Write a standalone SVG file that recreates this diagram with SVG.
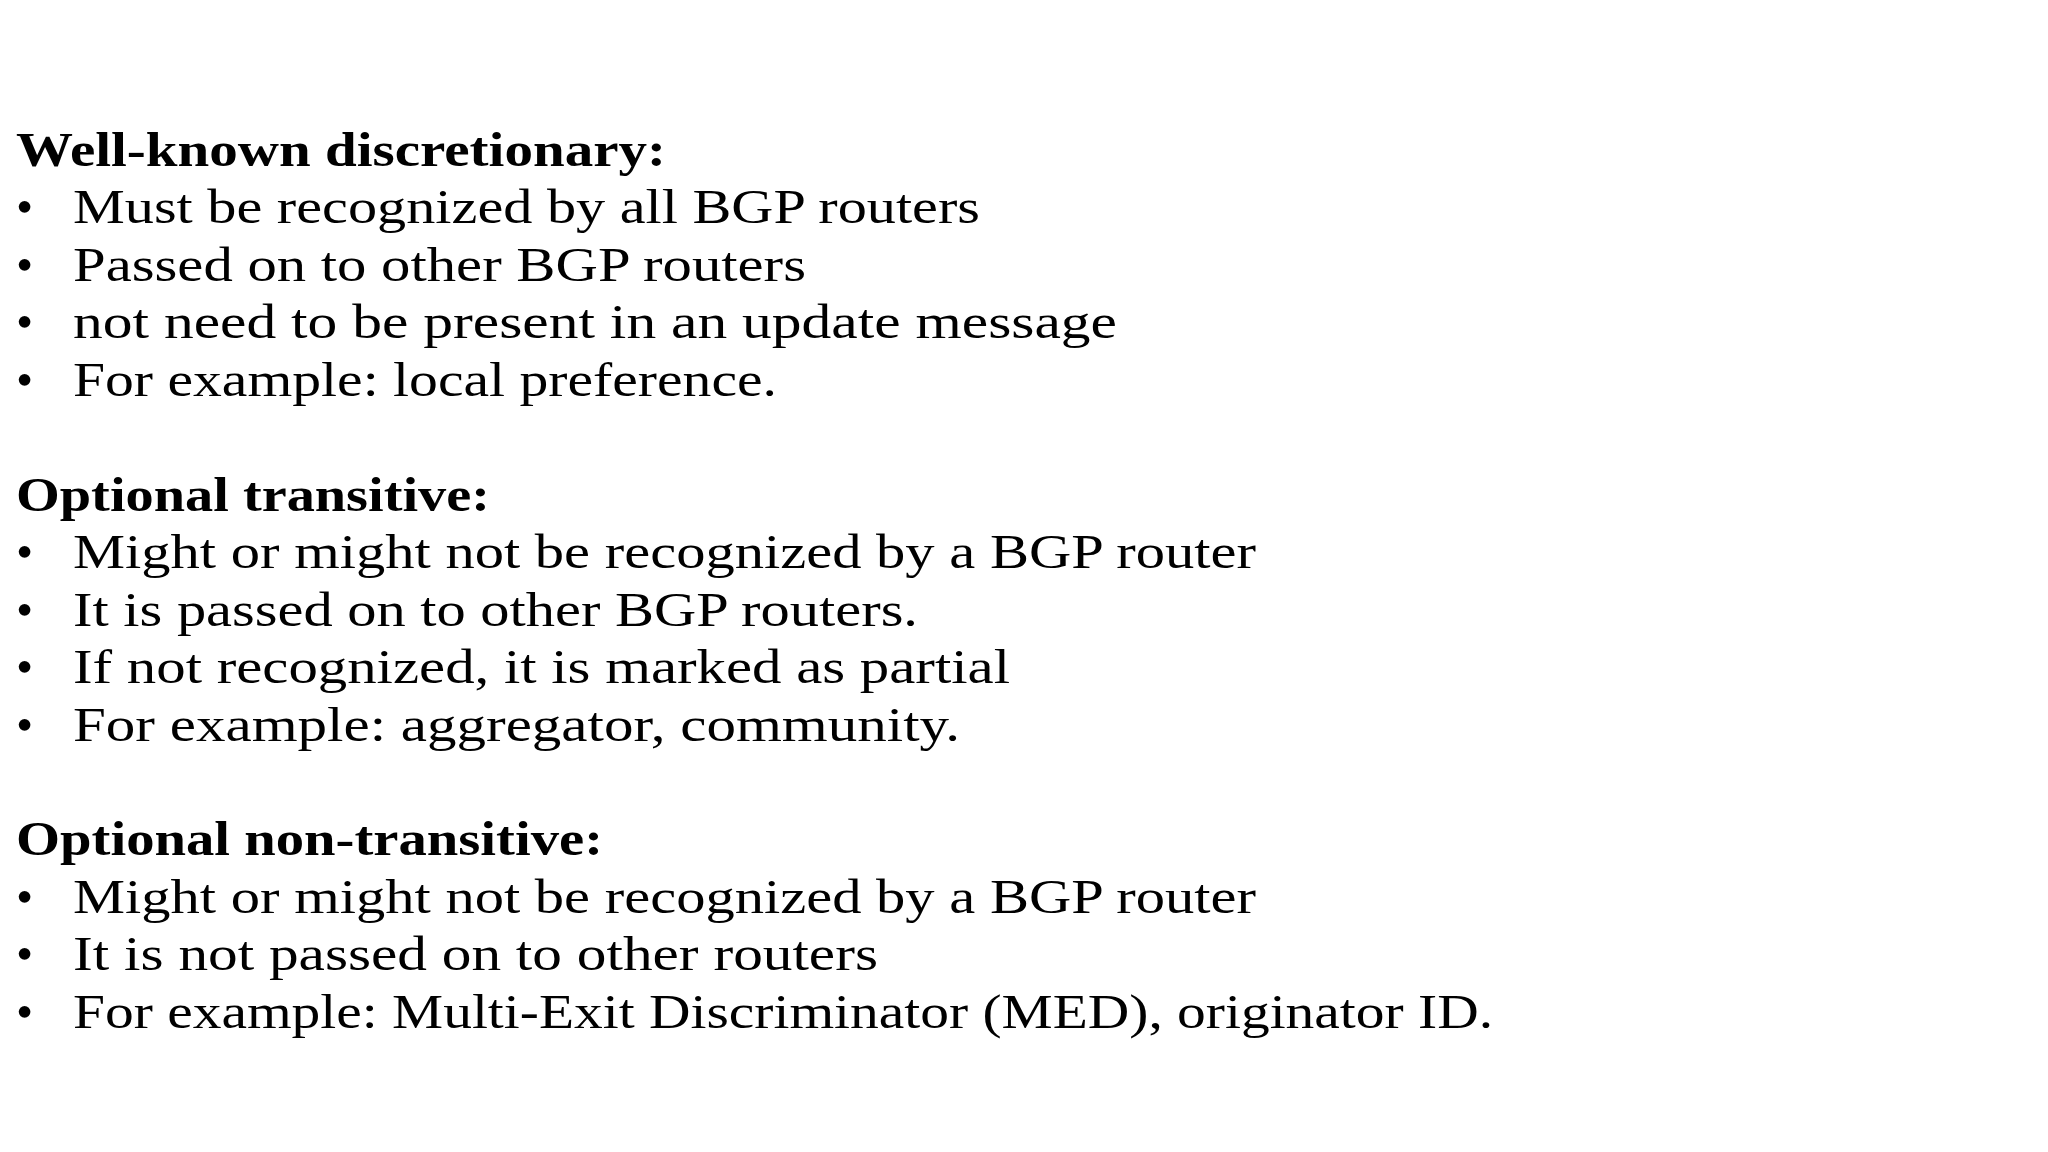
<svg xmlns="http://www.w3.org/2000/svg" width="2048" height="1152" viewBox="0 0 2048 1152">
<style>
text{font-family:"Liberation Serif","DejaVu Serif",serif;font-size:49px;fill:#000}
.h{font-weight:bold}
</style>
<rect width="2048" height="1152" fill="#fff"/>
<g id="wellknown">
<text class="h" x="16" y="166" textLength="650" lengthAdjust="spacingAndGlyphs">Well-known discretionary:</text>
<text x="16" y="223">•</text><text x="73" y="223" textLength="907" lengthAdjust="spacingAndGlyphs">Must be recognized by all BGP routers</text>
<text x="16" y="281">•</text><text x="73" y="281" textLength="733" lengthAdjust="spacingAndGlyphs">Passed on to other BGP routers</text>
<text x="16" y="338">•</text><text x="73" y="338" textLength="1044" lengthAdjust="spacingAndGlyphs">not need to be present in an update message</text>
<text x="16" y="396">•</text><text x="73" y="396" textLength="704" lengthAdjust="spacingAndGlyphs">For example: local preference.</text>
</g>
<g id="optional-transitive">
<text class="h" x="16" y="511" textLength="474" lengthAdjust="spacingAndGlyphs">Optional transitive:</text>
<text x="16" y="568">•</text><text x="73" y="568" textLength="1183" lengthAdjust="spacingAndGlyphs">Might or might not be recognized by a BGP router</text>
<text x="16" y="626">•</text><text x="73" y="626" textLength="845" lengthAdjust="spacingAndGlyphs">It is passed on to other BGP routers.</text>
<text x="16" y="683">•</text><text x="73" y="683" textLength="937" lengthAdjust="spacingAndGlyphs">If not recognized, it is marked as partial</text>
<text x="16" y="741">•</text><text x="73" y="741" textLength="887" lengthAdjust="spacingAndGlyphs">For example: aggregator, community.</text>
</g>
<g id="optional-nontransitive">
<text class="h" x="16" y="855" textLength="587" lengthAdjust="spacingAndGlyphs">Optional non-transitive:</text>
<text x="16" y="913">•</text><text x="73" y="913" textLength="1183" lengthAdjust="spacingAndGlyphs">Might or might not be recognized by a BGP router</text>
<text x="16" y="970">•</text><text x="73" y="970" textLength="805" lengthAdjust="spacingAndGlyphs">It is not passed on to other routers</text>
<text x="16" y="1028">•</text><text x="73" y="1028" textLength="1420" lengthAdjust="spacingAndGlyphs">For example: Multi-Exit Discriminator (MED), originator ID.</text>
</g>
<g id="connectors"/>
</svg>
